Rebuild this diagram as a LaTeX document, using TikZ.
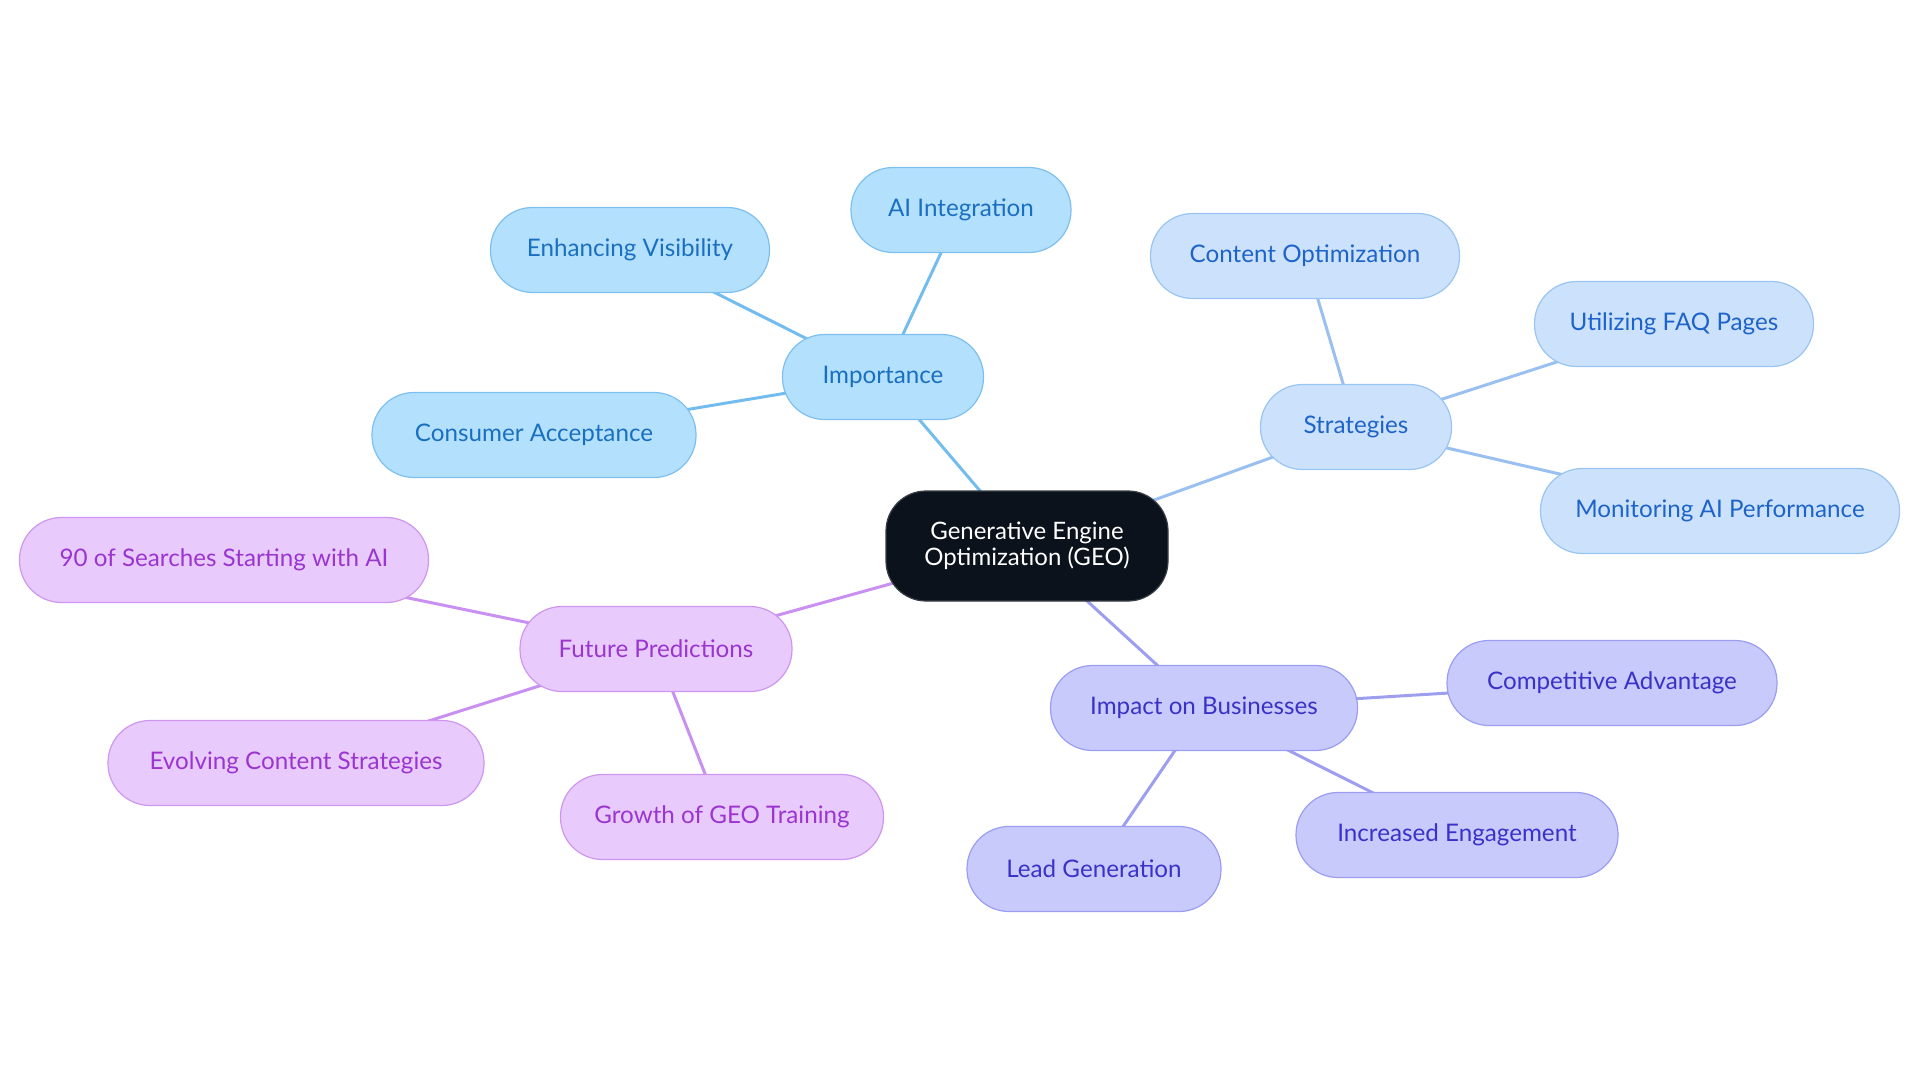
\documentclass[tikz,border=0pt]{standalone}
\usepackage{fontspec}
\setmainfont{Lato}
\usetikzlibrary{backgrounds}
\definecolor{bAfill}{HTML}{B3E0FD}\definecolor{bAdraw}{HTML}{7DC0F0}\definecolor{bAtext}{HTML}{1A6FC0}\definecolor{bAline}{HTML}{73BDEE}
\definecolor{bBfill}{HTML}{CCE2FC}\definecolor{bBdraw}{HTML}{9AC4F2}\definecolor{bBtext}{HTML}{1E63C8}\definecolor{bBline}{HTML}{99C0F0}
\definecolor{bCfill}{HTML}{C8CAFC}\definecolor{bCdraw}{HTML}{9B9DF2}\definecolor{bCtext}{HTML}{3A32C8}\definecolor{bCline}{HTML}{9C9EF0}
\definecolor{bDfill}{HTML}{E8CBFC}\definecolor{bDdraw}{HTML}{CE96F0}\definecolor{bDtext}{HTML}{9A35D0}\definecolor{bDline}{HTML}{C890F0}
\definecolor{ctrfill}{HTML}{0C121C}\definecolor{ctrdraw}{HTML}{3A3F47}
\tikzset{
  pill/.style={rectangle, rounded corners=42pt, minimum height=85pt, line width=1.2pt, font=\fontsize{24.2}{27}\selectfont, inner xsep=0pt},
  grpA/.style={pill, fill=bAfill, draw=bAdraw, text=bAtext},
  grpB/.style={pill, fill=bBfill, draw=bBdraw, text=bBtext},
  grpC/.style={pill, fill=bCfill, draw=bCdraw, text=bCtext},
  grpD/.style={pill, fill=bDfill, draw=bDdraw, text=bDtext},
  lnA/.style={draw=bAline, line width=3pt},
  lnB/.style={draw=bBline, line width=3pt},
  lnC/.style={draw=bCline, line width=3pt},
  lnD/.style={draw=bDline, line width=3pt},
}
\begin{document}
\begin{tikzpicture}[x=1pt,y=-1pt]
\useasboundingbox (0,0) rectangle (1920,1083);
\node[rectangle, rounded corners=40pt, minimum width=282pt, minimum height=110pt, fill=ctrfill, draw=ctrdraw, line width=1.2pt, text=white, align=center, font=\fontsize{24}{26}\selectfont] (geo) at (1027,546) {Generative Engine\\Optimization (GEO)};

\node[grpA, minimum width=201pt] (imp) at (883,377) {Importance};
\node[grpA, minimum width=220pt] (ai) at (961,210) {AI Integration};
\node[grpA, minimum width=279pt] (vis) at (630,250) {Enhancing Visibility};
\node[grpA, minimum width=324pt] (cons) at (534,435) {Consumer Acceptance};

\node[grpB, minimum width=191pt] (str) at (1356,427) {Strategies};
\node[grpB, minimum width=309pt] (cont) at (1305,256) {Content Optimization};
\node[grpB, minimum width=279pt] (faq) at (1674,324) {Utilizing FAQ Pages};
\node[grpB, minimum width=359pt] (mon) at (1720,511) {Monitoring AI Performance};

\node[grpC, minimum width=307pt] (impb) at (1204,708) {Impact on Businesses};
\node[grpC, minimum width=330pt] (comp) at (1612,683) {Competitive Advantage};
\node[grpC, minimum width=322pt] (eng) at (1457,835) {Increased Engagement};
\node[grpC, minimum width=254pt] (lead) at (1094,869) {Lead Generation};

\node[grpD, minimum width=272pt] (fut) at (656,649) {Future Predictions};
\node[grpD, minimum width=409pt] (ninety) at (224,560) {90 of Searches Starting with AI};
\node[grpD, minimum width=376pt] (evo) at (296,763) {Evolving Content Strategies};
\node[grpD, minimum width=323pt] (grow) at (722,817) {Growth of GEO Training};

\begin{scope}[on background layer]
\draw[lnA] (geo.center) -- (imp.center);
\draw[lnA] (imp.center) -- (ai.center);
\draw[lnA] (imp.center) -- (vis.center);
\draw[lnA] (imp.center) -- (cons.center);
\draw[lnB] (geo.center) -- (str.center);
\draw[lnB] (str.center) -- (cont.center);
\draw[lnB] (str.center) -- (faq.center);
\draw[lnB] (str.center) -- (mon.center);
\draw[lnC] (geo.center) -- (impb.center);
\draw[lnC] (impb.center) -- (comp.center);
\draw[lnC] (impb.center) -- (eng.center);
\draw[lnC] (impb.center) -- (lead.center);
\draw[lnD] (geo.center) -- (fut.center);
\draw[lnD] (fut.center) -- (ninety.center);
\draw[lnD] (fut.center) -- (evo.center);
\draw[lnD] (fut.center) -- (grow.center);
\end{scope}
\end{tikzpicture}
\end{document}
